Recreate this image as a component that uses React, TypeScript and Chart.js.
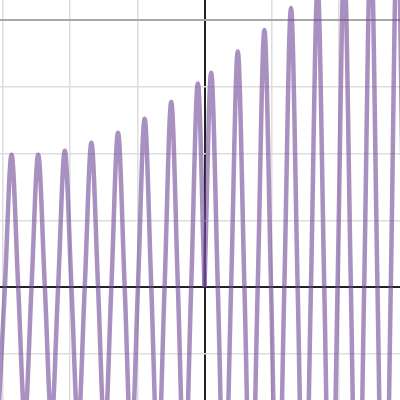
import React, { useEffect, useRef } from "react";
import { Chart, registerables } from "chart.js";
Chart.register(...registerables);

// Curve samples: peaks, zero crossings, troughs (left of x=0)
const leftX = [-3.069, -2.970, -2.871, -2.772, -2.673, -2.574, -2.475, -2.376, -2.277, -2.178, -2.079, -1.980, -1.881, -1.782, -1.683, -1.584, -1.485, -1.386, -1.287, -1.188, -1.089, -0.990, -0.891, -0.792, -0.693, -0.594, -0.495, -0.396, -0.297, -0.198, -0.099, 0];
const leftY = [-1.96, 0, 1.98, 0, -1.97, 0, 1.98, 0, -2.00, 0, 2.04, 0, -2.09, 0, 2.16, 0, -2.23, 0, 2.31, 0, -2.41, 0, 2.52, 0, -2.64, 0, 2.77, 0, -2.90, 0, 3.05, 0];

// Right of x=0
const rightX = [0, 0.099, 0.198, 0.297, 0.396, 0.495, 0.594, 0.693, 0.792, 0.891, 0.990, 1.089, 1.188, 1.287, 1.386, 1.485, 1.584, 1.683, 1.782, 1.881, 1.980, 2.079, 2.178, 2.277, 2.376, 2.475, 2.574, 2.673, 2.772, 2.871, 2.970, 3.069];
const rightY = [0, 3.21, 0, -3.37, 0, 3.53, 0, -3.69, 0, 3.85, 0, -4.01, 0, 4.18, 0, -4.35, 0, 4.52, 0, -4.70, 0, 4.87, 0, -5.05, 0, 5.23, 0, -5.41, 0, 5.60, 0, -5.80];

// Visible window
const X_MIN = -3.043;
const X_MAX = 2.909;
const Y_MIN = -1.693;
const Y_MAX = 4.3;
const HIGHLIGHT_Y = 4;

export default function App() {
  const ref = useRef<HTMLCanvasElement>(null);
  useEffect(() => {
    const lineColor = "rgba(110,70,150,0.6)";
    const ds = (xs: number[], ys: number[]) => ({
      data: xs.map((x, i) => ({ x, y: ys[i] })),
      borderColor: lineColor,
      borderWidth: 4.5,
      pointRadius: 0,
      cubicInterpolationMode: "monotone" as const,
      fill: false,
    });
    const chart = new Chart(ref.current!, {
      type: "line",
      data: { datasets: [ds(leftX, leftY), ds(rightX, rightY)] },
      options: {
        responsive: false,
        animation: false,
        layout: { padding: 0 },
        plugins: { legend: { display: false }, tooltip: { enabled: false } },
        scales: {
          x: {
            type: "linear",
            min: X_MIN,
            max: X_MAX,
            ticks: { display: false, stepSize: 1, includeBounds: false },
            grid: {
              drawTicks: false,
              color: (c: any) => (c.tick && c.tick.value === 0 ? "#222" : "#dedede"),
              lineWidth: (c: any) => (c.tick && c.tick.value === 0 ? 2 : 1.5),
            },
            border: { display: false },
          },
          y: {
            type: "linear",
            min: Y_MIN,
            max: Y_MAX,
            ticks: { display: false, stepSize: 1, includeBounds: false },
            grid: {
              drawTicks: false,
              color: (c: any) =>
                c.tick && c.tick.value === 0 ? "#222" : c.tick && c.tick.value === HIGHLIGHT_Y ? "#a8a8a8" : "#dedede",
              lineWidth: (c: any) => (c.tick && (c.tick.value === 0 || c.tick.value === HIGHLIGHT_Y) ? 2 : 1.5),
            },
            border: { display: false },
          },
        },
      },
    });
    return () => chart.destroy();
  }, []);
  return (
    <div style={{ position: "fixed", left: 0, top: 0, width: 400, height: 400, background: "#fff" }}>
      <canvas ref={ref} width={400} height={400} style={{ display: "block" }} />
    </div>
  );
}
